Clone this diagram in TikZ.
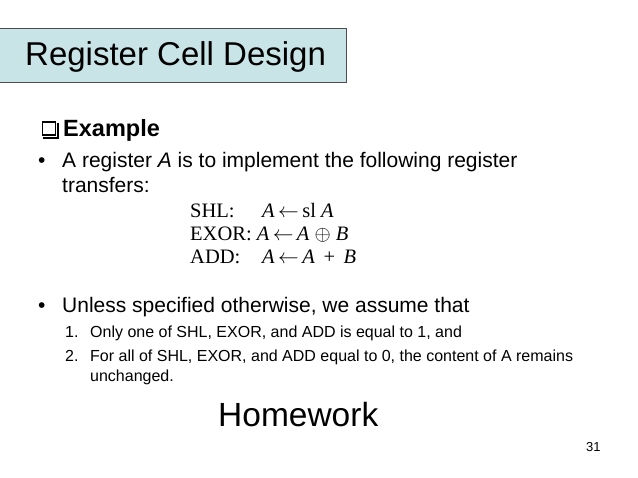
\documentclass[tikz,border=0pt]{standalone}
\usepackage{fontspec}
\setmainfont{Liberation Sans}
\newfontfamily\serifF{Liberation Serif}
\usepackage{amssymb}
\begin{document}
\begin{tikzpicture}[x=1pt,y=-1pt,
  txt/.style={anchor=base west,inner sep=0pt},
  eq/.style={anchor=base west,inner sep=0pt,font=\serifF\fontsize{20.5}{20.5}\selectfont}]
\useasboundingbox (0,0) rectangle (638,478);
\fill[white] (0,0) rectangle (638,478);
\node[draw=black!70,line width=0.8pt,fill={rgb,255:red,200;green,228;blue,230},minimum width=347,minimum height=54,anchor=north west,inner sep=0pt] (title) at (-1,28) {};
\node[txt,font=\fontsize{33}{33}\selectfont] (tt) at (25,66) {Register Cell Design};
\node[draw,line width=1.6pt,minimum size=13,inner sep=0pt,anchor=south west] (sq) at (41.5,136) {};
\draw[line width=2pt] ([xshift=1.2pt,yshift=-1.6pt]sq.south west) -- ([xshift=1.6pt,yshift=-1.6pt]sq.south east) -- ([xshift=1.6pt,yshift=-1.2pt]sq.north east);
\node[txt,font=\bfseries\fontsize{23.5}{23.5}\selectfont] (ex) at (63,137) {Example};
\node[txt,font=\fontsize{21}{21}\selectfont] (b1) at (38,168) {•};
\node[txt,font=\fontsize{21}{21}\selectfont] (l1) at (62,168) {A register \textit{A} is to implement the following register};
\node[txt,font=\fontsize{21}{21}\selectfont] (l2) at (62,193) {transfers:};
\node[eq] (e1) at (190,218) {SHL:};
\node[eq] (e1b) at (262,218) {\textit{A}\,$\leftarrow$\,sl \textit{A}};
\node[eq] (e2) at (190,241) {EXOR: \textit{A}\,$\leftarrow$\,\textit{A} $\oplus$ \textit{B}};
\node[eq] (e3) at (190,264) {ADD:};
\node[eq] (e3b) at (262,264) {\textit{A}\,$\leftarrow$\,\textit{A} \,+\, \textit{B}};
\node[txt,font=\fontsize{21}{21}\selectfont] (b2) at (38,313) {•};
\node[txt,font=\fontsize{21}{21}\selectfont] (l3) at (62,313) {Unless specified otherwise, we assume that};
\node[txt,font=\fontsize{16}{16}\selectfont] (n1) at (65,338) {1.};
\node[txt,font=\fontsize{16}{16}\selectfont] (n1t) at (90,338) {Only one of SHL, EXOR, and ADD is equal to 1, and};
\node[txt,font=\fontsize{16}{16}\selectfont] (n2) at (65,362) {2.};
\node[txt,font=\fontsize{16}{16}\selectfont] (n2t) at (90,362) {For all of SHL, EXOR, and ADD equal to 0, the content of A remains};
\node[txt,font=\fontsize{16}{16}\selectfont] (n3t) at (90,382) {unchanged.};
\node[txt,font=\fontsize{33.5}{33.5}\selectfont] (hw) at (218,427) {Homework};
\node[txt,font=\fontsize{13}{13}\selectfont] (pg) at (586,452) {31};
\end{tikzpicture}
\end{document}
